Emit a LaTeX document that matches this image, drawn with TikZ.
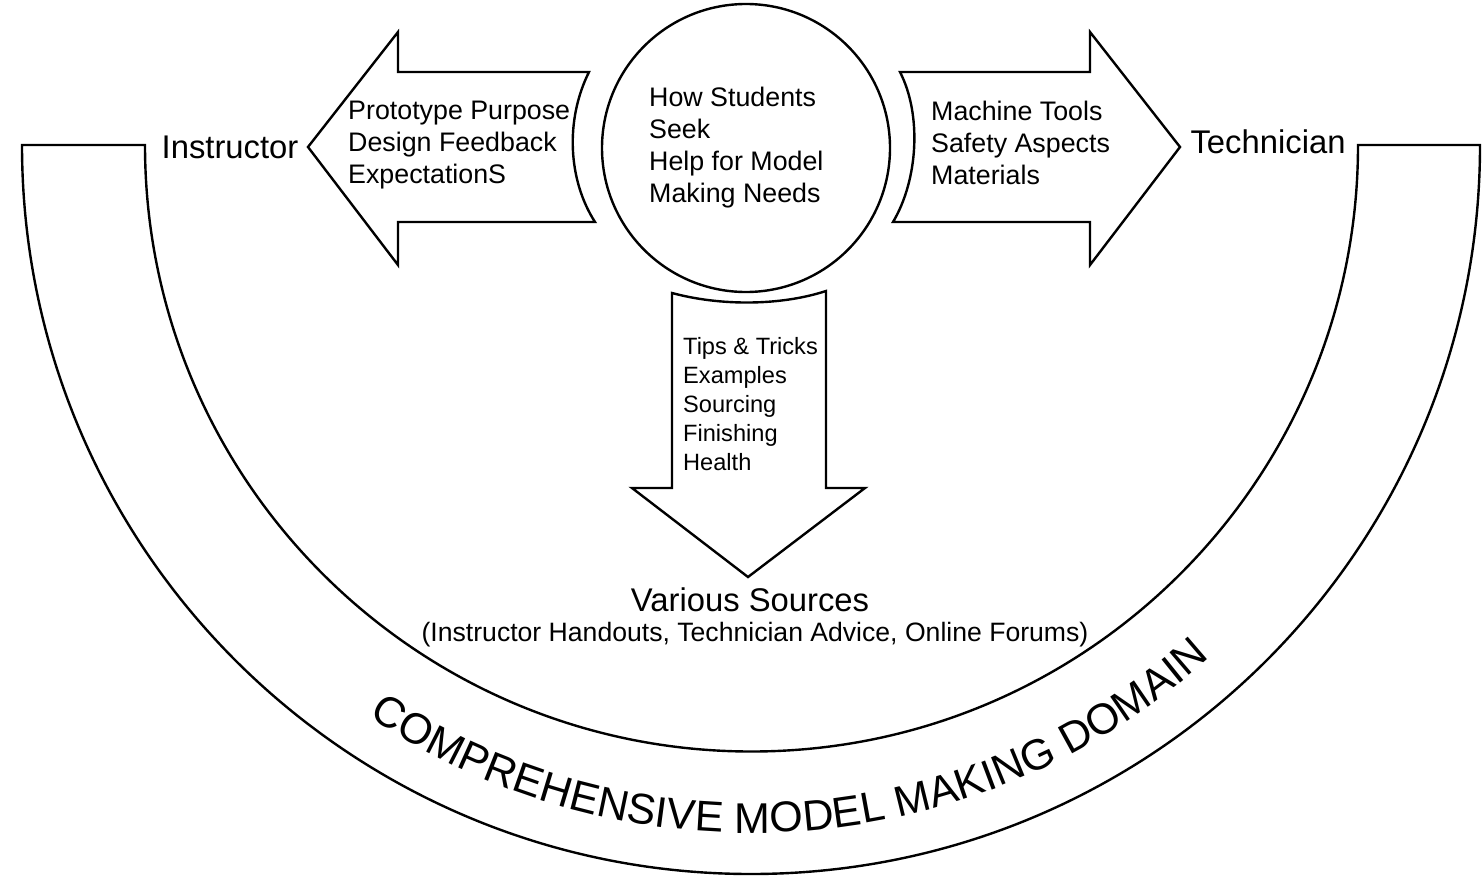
\documentclass[tikz,border=0pt]{standalone}
\usepackage{fontspec}
\setmainfont{Liberation Sans}
\usetikzlibrary{decorations.text}
\begin{document}
\begin{tikzpicture}[x=0.5pt,y=-0.5pt,line width=1.2pt,
  lbl/.style={font=\fontsize{13.4}{16}\selectfont,align=left,anchor=north west,inner sep=0},
  big/.style={font=\fontsize{16.4}{18}\selectfont,inner sep=0}]
\useasboundingbox (0,0) rectangle (1482,878);
% domain half ring
\draw (22,145) -- (145,145) arc[start angle=180,end angle=0,radius=606.5] -- (1480,145)
  arc[start angle=0,end angle=180,radius=729] -- cycle;
\path[decorate,decoration={text along path,text align=center,
  text={|\fontsize{21.5}{21.5}\selectfont|COMPREHENSIVE MODEL MAKING DOMAIN}}]
  (751,145) ++(130:688) arc[start angle=130,end angle=42,radius=688];
% central circle
\node[draw,circle,minimum size=144pt,inner sep=0] (c) at (746,148) {};
\node[lbl] (ct) at (648,86) {How Students\\Seek\\Help for Model\\Making Needs};
% left arrow
\draw (308,147) -- (398,32) -- (398,72) -- (589,72) .. controls (565,120) and (568,180) .. (595,222)
  -- (398,222) -- (398,265) -- cycle;
\node[lbl] (lt) at (347,100) {Prototype Purpose\\Design Feedback\\ExpectationS};
% right arrow
\draw (1180,147) -- (1090,32) -- (1090,72) -- (900,72) .. controls (922,115) and (918,180) .. (893,222)
  -- (1090,222) -- (1090,265) -- cycle;
\node[lbl] (rt) at (930,100) {Machine Tools\\Safety Aspects\\Materials};
% down arrow
\draw (748,577) -- (632,488) -- (672,488) -- (672,293) .. controls (720,306) and (780,306) .. (826,291)
  -- (826,488) -- (865,488) -- cycle;
\node[lbl,font=\fontsize{11.8}{14.5}\selectfont] (dt) at (682,336) {Tips \& Tricks\\Examples\\Sourcing\\Finishing\\Health};
% labels
\node[big] (ins) at (230,147) {Instructor};
\node[big] (tec) at (1268,142) {Technician};
\node[big] (vs) at (750,600) {Various Sources};
\node[font=\fontsize{13.3}{15}\selectfont,inner sep=0] (vs2) at (755,635) {(Instructor Handouts, Technician Advice, Online Forums)};
\end{tikzpicture}
\end{document}
